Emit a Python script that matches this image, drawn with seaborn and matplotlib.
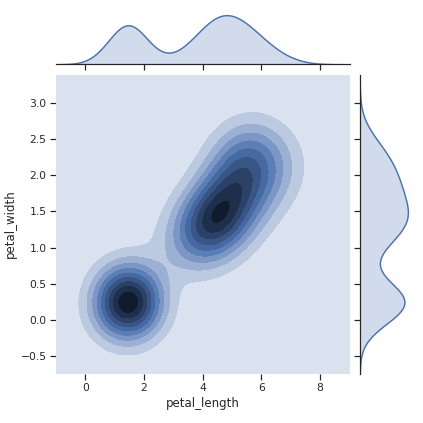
import numpy as np
import pandas as pd
import seaborn as sns
import matplotlib.pyplot as plt

# iris petal measurements
petal_length = [
    1.4,1.4,1.3,1.5,1.4,1.7,1.4,1.5,1.4,1.5,1.5,1.6,1.4,1.1,1.2,1.5,1.3,1.4,1.7,1.5,1.7,1.5,1.0,1.7,1.9,
    1.6,1.6,1.5,1.4,1.6,1.6,1.5,1.5,1.4,1.5,1.2,1.3,1.4,1.3,1.5,1.3,1.3,1.3,1.6,1.9,1.4,1.6,1.4,1.5,1.4,
    4.7,4.5,4.9,4.0,4.6,4.5,4.7,3.3,4.6,3.9,3.5,4.2,4.0,4.7,3.6,4.4,4.5,4.1,4.5,3.9,4.8,4.0,4.9,4.7,4.3,
    4.4,4.8,5.0,4.5,3.5,3.8,3.7,3.9,5.1,4.5,4.5,4.7,4.4,4.1,4.0,4.4,4.6,4.0,3.3,4.2,4.2,4.2,4.3,3.0,4.1,
    6.0,5.1,5.9,5.6,5.8,6.6,4.5,6.3,5.8,6.1,5.1,5.3,5.5,5.0,5.1,5.3,5.5,6.7,6.9,5.0,5.7,4.9,6.7,4.9,5.7,
    6.0,4.8,4.9,5.6,5.8,6.1,6.4,5.6,5.1,5.6,6.1,5.6,5.5,4.8,5.4,5.6,5.1,5.1,5.9,5.7,5.2,5.0,5.2,5.4,5.1,
]
petal_width = [
    0.2,0.2,0.2,0.2,0.2,0.4,0.3,0.2,0.2,0.1,0.2,0.2,0.1,0.1,0.2,0.4,0.4,0.3,0.3,0.3,0.2,0.4,0.2,0.5,0.2,
    0.2,0.4,0.2,0.2,0.2,0.2,0.4,0.1,0.2,0.2,0.2,0.2,0.1,0.2,0.2,0.3,0.3,0.2,0.6,0.4,0.3,0.2,0.2,0.2,0.2,
    1.4,1.5,1.5,1.3,1.5,1.3,1.6,1.0,1.3,1.4,1.0,1.5,1.0,1.4,1.3,1.4,1.5,1.0,1.5,1.1,1.8,1.3,1.5,1.2,1.3,
    1.4,1.4,1.7,1.5,1.0,1.1,1.0,1.2,1.6,1.5,1.6,1.5,1.3,1.3,1.3,1.2,1.4,1.2,1.0,1.3,1.2,1.3,1.3,1.1,1.3,
    2.5,1.9,2.1,1.8,2.2,2.1,1.7,1.8,1.8,2.5,2.0,1.9,2.1,2.0,2.4,2.3,1.8,2.2,2.3,1.5,2.3,2.0,2.0,1.8,2.1,
    1.8,1.8,1.8,2.1,1.6,1.9,2.0,2.2,1.5,1.4,2.3,2.4,1.8,1.8,2.1,2.4,2.3,1.9,2.3,2.5,2.3,1.9,2.0,2.3,1.8,
]
df = pd.DataFrame({"petal_length": petal_length, "petal_width": petal_width})

sns.set_theme(style="ticks")
blue = "#4c72b0"
light = "#eaeef6"
cmap = sns.blend_palette([light, blue, "#0b1220"], as_cmap=True)

g = sns.JointGrid(data=df, x="petal_length", y="petal_width", height=6, space=0.2)

# bivariate kde with a separate (scott) bandwidth per axis, like the old statsmodels path
x = df["petal_length"].to_numpy()
y = df["petal_width"].to_numpy()
n = len(x)
bx = x.std(ddof=1) * n ** (-1 / 6)
by = y.std(ddof=1) * n ** (-1 / 6)
gx = np.linspace(-1, 9, 200)
gy = np.linspace(-0.75, 3.4, 200)
X, Y = np.meshgrid(gx, gy)
Z = np.zeros_like(X)
for xi, yi in zip(x, y):
    Z += np.exp(-0.5 * (((X - xi) / bx) ** 2 + ((Y - yi) / by) ** 2))
Z /= n * 2 * np.pi * bx * by
g.ax_joint.contourf(X, Y, Z, levels=10, cmap=cmap)

sns.kdeplot(data=df, x="petal_length", fill=True, color=blue, linewidth=1.5, cut=6, ax=g.ax_marg_x)
sns.kdeplot(data=df, y="petal_width", fill=True, color=blue, linewidth=1.5, cut=6, ax=g.ax_marg_y)
g.ax_joint.set_xlim(-1, 9)
g.ax_joint.set_ylim(-0.75, 3.4)
g.ax_joint.set_xlabel("petal_length")
g.ax_joint.set_ylabel("petal_width")
for s in g.ax_joint.spines.values():
    s.set_visible(False)

g.figure.set_size_inches(6, 6)
g.figure.savefig("out.png", dpi=70.5)
